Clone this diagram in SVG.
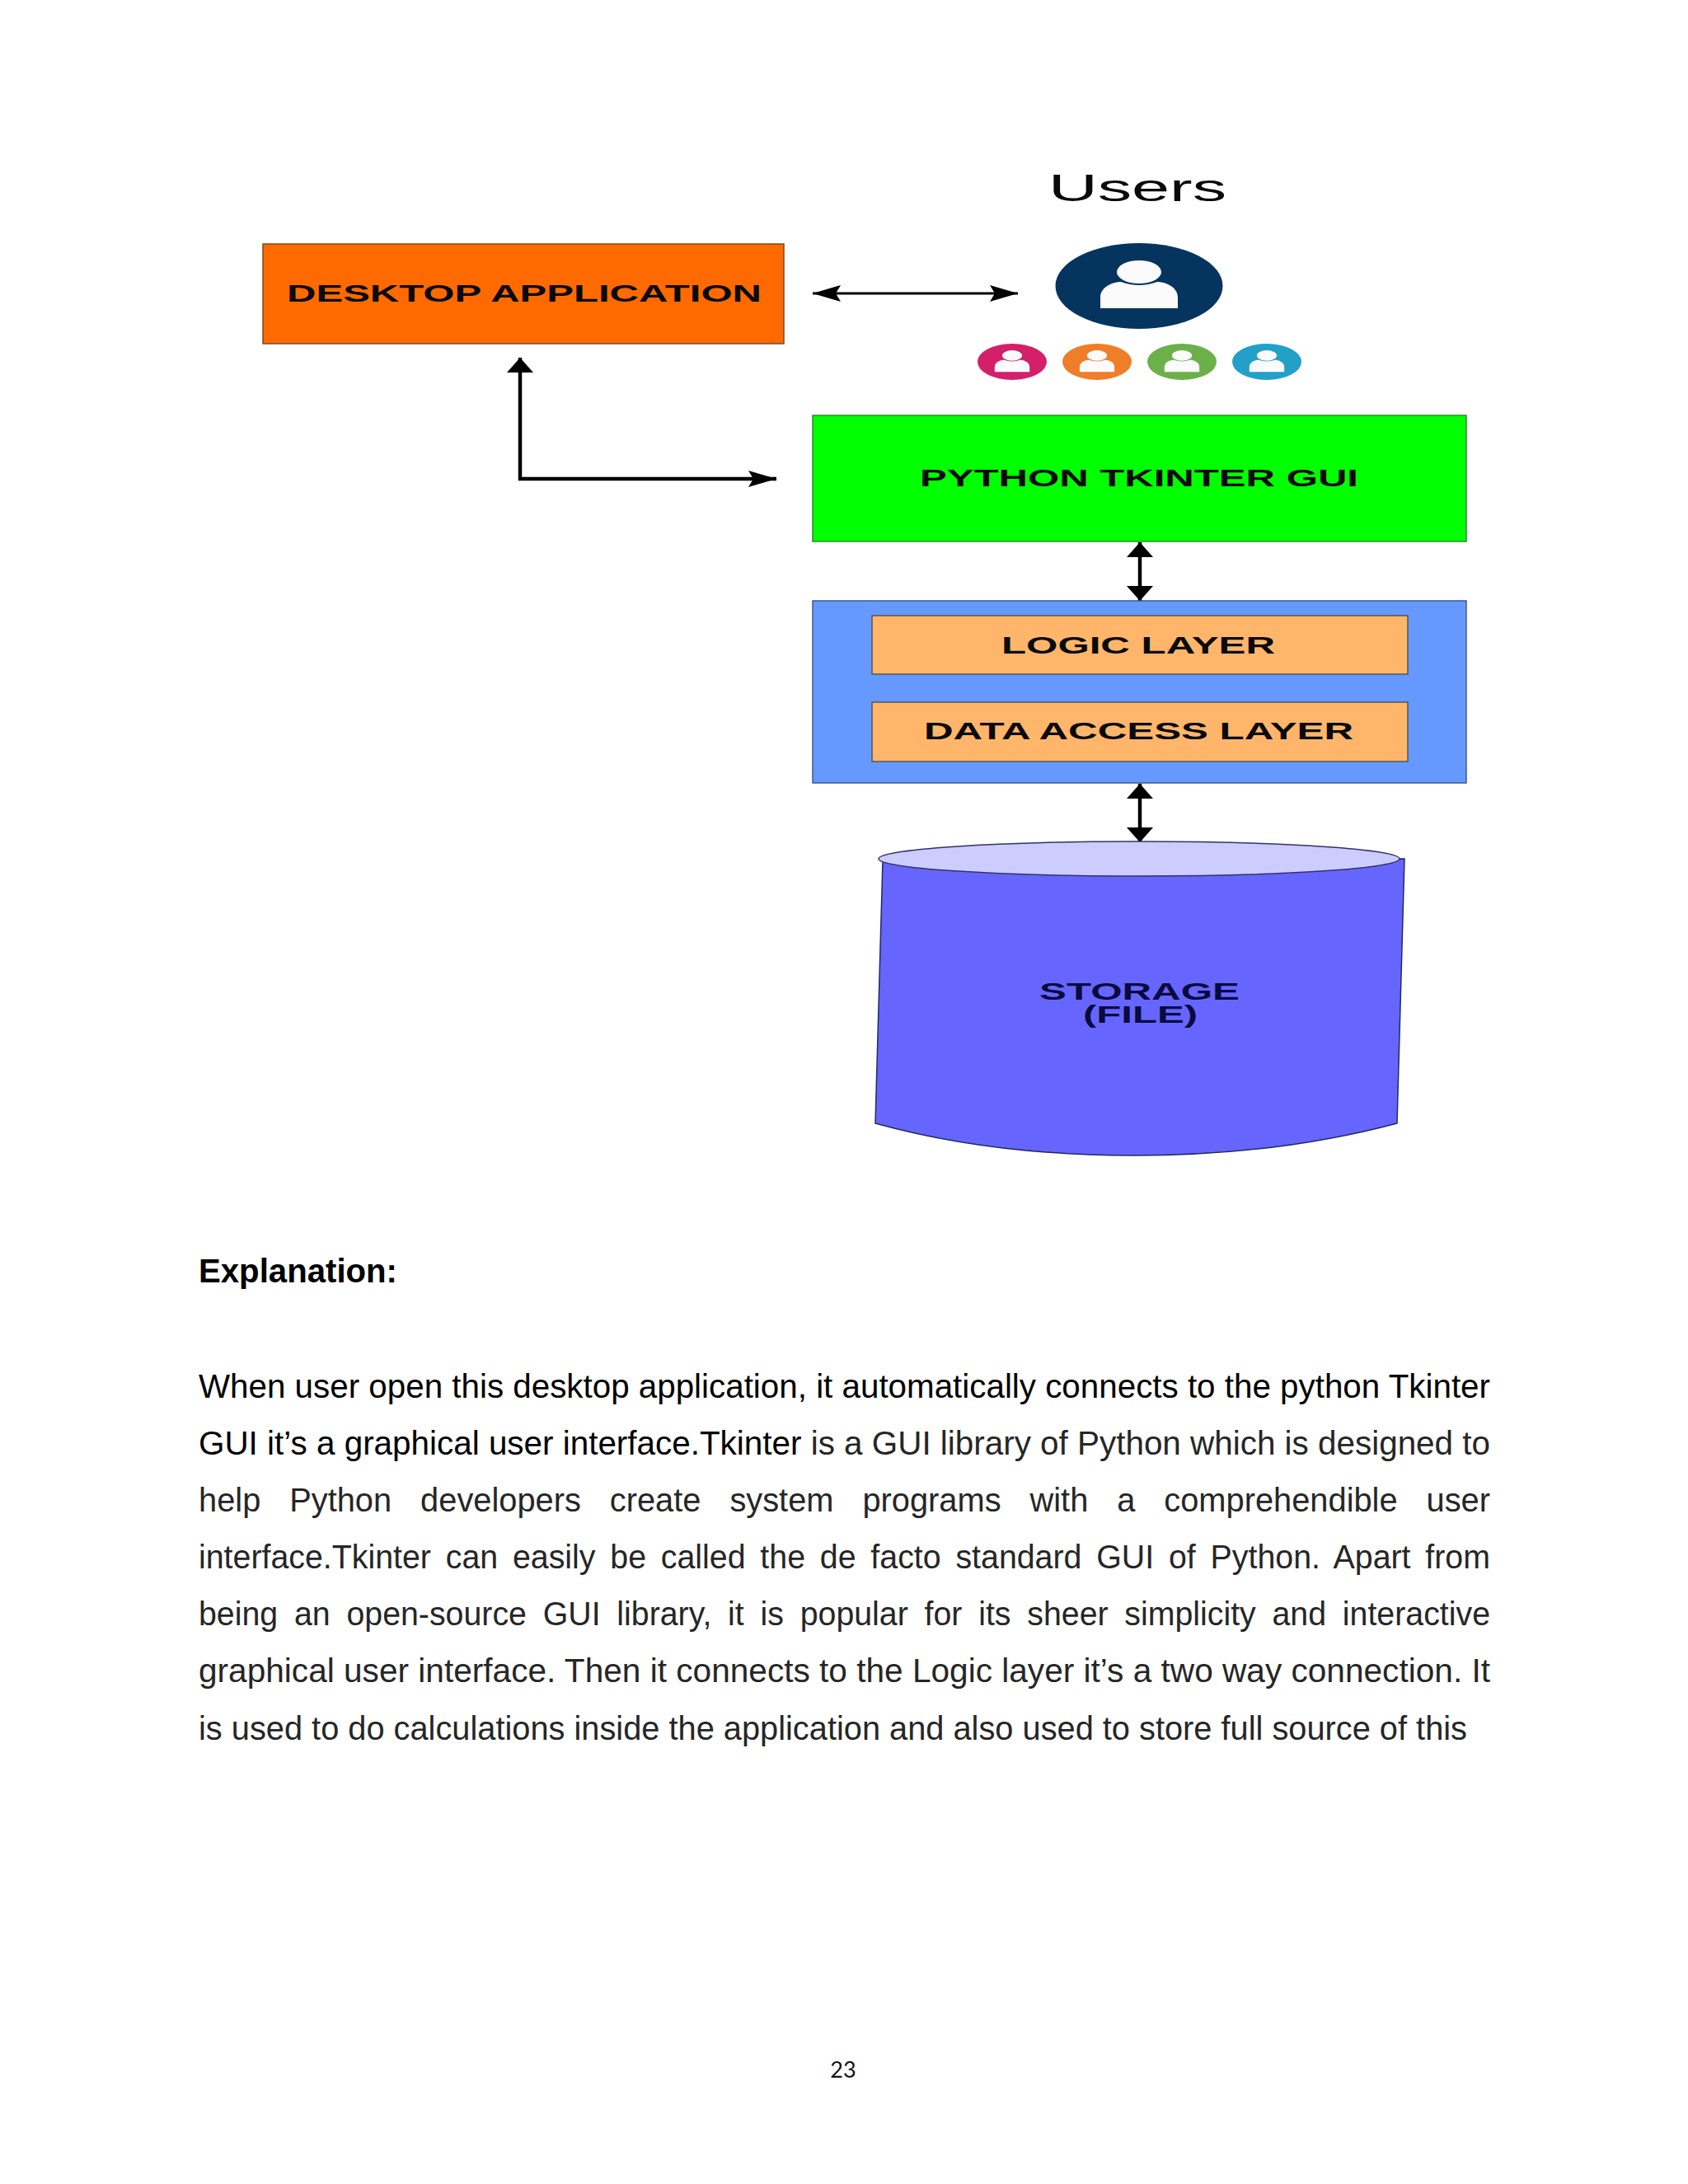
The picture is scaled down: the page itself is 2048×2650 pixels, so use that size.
<svg xmlns="http://www.w3.org/2000/svg" width="2048" height="2650" viewBox="0 0 2048 2650">
<style>
text{font-family:"Liberation Sans",Arial,sans-serif}
.lb{font-weight:bold;fill:#0a0a0a;font-size:29px}
.body{font-size:40px;fill:#262626}
.k{fill:#000}
.ln{fill:none;stroke:#000}
.fg{fill:#fbfbfb}
</style>
<defs>
<marker id="sharp" markerUnits="userSpaceOnUse" markerWidth="36" markerHeight="22" refX="34" refY="10" orient="auto-start-reverse"><path d="M0,0 L34,10 L0,20 L6,10 Z" fill="#000"/></marker>
<marker id="up" markerUnits="userSpaceOnUse" markerWidth="20" markerHeight="34" refX="18" refY="16" orient="auto-start-reverse"><path d="M0,0 L18,16 L0,32 Z" fill="#000"/></marker>
<path id="person" class="fg" d="M-47,27 L-47,14 C-47,0 -30,-5 -22,-5 Q0,3 22,-5 C30,-5 47,0 47,14 L47,27 Z M27,-17 A27,14 0 1 1 -27,-17 A27,14 0 1 1 27,-17 Z"/>
</defs>
<rect width="2048" height="2650" fill="#fff"/>
<g id="connectors">
<line class="ln" x1="986" y1="356" x2="1235" y2="356" stroke-width="3" marker-start="url(#sharp)" marker-end="url(#sharp)"/>
<path class="ln" d="M631,434 V581 H942" stroke-width="4.5" marker-start="url(#up)" marker-end="url(#sharp)"/>
<line class="ln" x1="1383" y1="658" x2="1383" y2="729" stroke-width="4.5" marker-start="url(#up)" marker-end="url(#up)"/>
<line class="ln" x1="1383" y1="951" x2="1383" y2="1022" stroke-width="4.5" marker-start="url(#up)" marker-end="url(#up)"/>
</g>
<g id="desktop"><rect x="319" y="296" width="632" height="121" fill="#ff6a00" stroke="#7a4a20" stroke-width="1.5"/><text class="lb" x="348" y="366" textLength="576" lengthAdjust="spacingAndGlyphs">DESKTOP APPLICATION</text></g>
<g id="users"><text x="1272" y="244" font-size="46" fill="#0a0a0a" textLength="216" lengthAdjust="spacingAndGlyphs">Users</text>
<ellipse cx="1382" cy="347" rx="101.5" ry="52" fill="#05355e"/><use href="#person" x="1382" y="347"/>
<g transform="translate(1228,439)"><ellipse rx="42" ry="22" fill="#d41f6a"/><use href="#person" transform="scale(.45)"/></g>
<g transform="translate(1331,439)"><ellipse rx="42" ry="22" fill="#f07d28"/><use href="#person" transform="scale(.45)"/></g>
<g transform="translate(1434,439)"><ellipse rx="42" ry="22" fill="#6cb04a"/><use href="#person" transform="scale(.45)"/></g>
<g transform="translate(1537,439)"><ellipse rx="42" ry="22" fill="#22a0c8"/><use href="#person" transform="scale(.45)"/></g></g>
<g id="gui"><rect x="986" y="504" width="793" height="153" fill="#00ff00" stroke="#2e8b2e" stroke-width="1.5"/><text class="lb" x="1116" y="590" textLength="532" lengthAdjust="spacingAndGlyphs">PYTHON TKINTER GUI</text></g>
<g id="middle"><rect x="986" y="729" width="793" height="221" fill="#6699ff" stroke="#3a5a90" stroke-width="1.5"/></g>
<g id="logic"><rect x="1058" y="747" width="650" height="71" fill="#ffb66a" stroke="#555" stroke-width="1.5"/><text class="lb" x="1215" y="793" textLength="332" lengthAdjust="spacingAndGlyphs">LOGIC LAYER</text></g>
<g id="data"><rect x="1058" y="852" width="650" height="72" fill="#ffb66a" stroke="#555" stroke-width="1.5"/><text class="lb" x="1121" y="897" textLength="521" lengthAdjust="spacingAndGlyphs">DATA ACCESS LAYER</text></g>
<g id="storage"><path d="M1071,1044 L1062,1363 C1250,1415 1500,1415 1695,1363 L1704,1042 Z" fill="#6666ff" stroke="#222a60" stroke-width="1.5"/><ellipse cx="1382" cy="1042" rx="316" ry="21" fill="#ccccff" stroke="#333366" stroke-width="1.5"/>
<text class="lb" style="fill:#0a0a40" x="1261" y="1213" textLength="243" lengthAdjust="spacingAndGlyphs">STORAGE</text><text class="lb" style="fill:#0a0a40" x="1314" y="1241" textLength="139" lengthAdjust="spacingAndGlyphs">(FILE)</text></g>
<g id="explanation">
<text x="241" y="1556" font-size="40" font-weight="bold" fill="#000" textLength="241" lengthAdjust="spacingAndGlyphs">Explanation:</text>
<text class="body" x="241" y="1696" textLength="1567" lengthAdjust="spacingAndGlyphs"><tspan class="k">When user open this desktop application, it automatically connects to the python Tkinter</tspan></text>
<text class="body" x="241" y="1765" textLength="1567" lengthAdjust="spacingAndGlyphs"><tspan class="k">GUI it’s a graphical user interface.Tkinter</tspan> is a GUI library of Python which is designed to</text>
<text class="body" x="241" y="1834" textLength="1567" lengthAdjust="spacingAndGlyphs" word-spacing="24">help Python developers create system programs with a comprehendible user</text>
<text class="body" x="241" y="1903" textLength="1567" lengthAdjust="spacingAndGlyphs" word-spacing="7">interface.Tkinter can easily be called the de facto standard GUI of Python. Apart from</text>
<text class="body" x="241" y="1972" textLength="1567" lengthAdjust="spacingAndGlyphs" word-spacing="9">being an open-source GUI library, it is popular for its sheer simplicity and interactive</text>
<text class="body" x="241" y="2041" textLength="1567" lengthAdjust="spacingAndGlyphs">graphical user interface. Then it connects to the Logic layer it’s a two way connection. It</text>
<text class="body" x="241" y="2111" textLength="1539" lengthAdjust="spacingAndGlyphs">is used to do calculations inside the application and also used to store full source of this</text>
</g>
<g id="pagenumber"><text x="1023" y="2521" font-size="27" fill="#111" text-anchor="middle" style="font-family:Lato,'Liberation Sans',sans-serif">23</text></g>
</svg>
